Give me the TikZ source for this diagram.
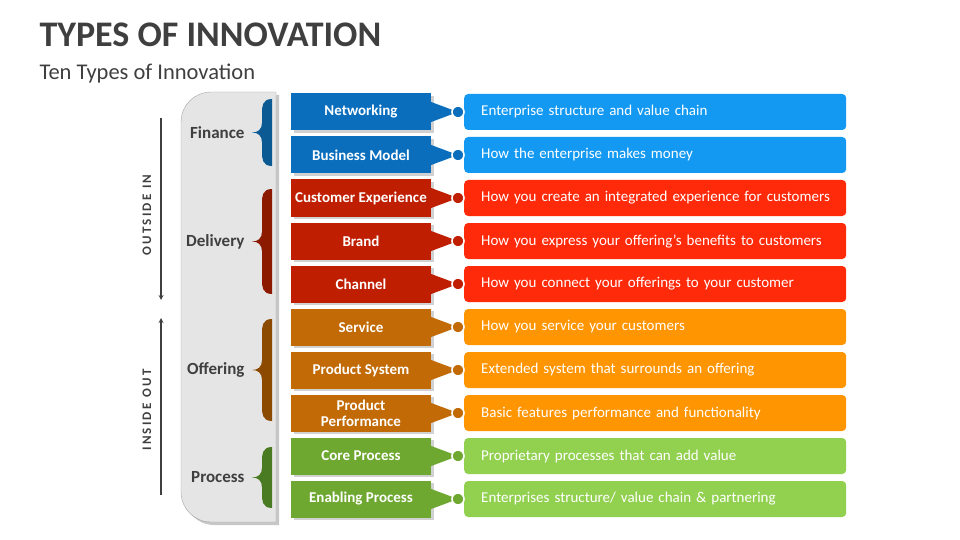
\documentclass[tikz,border=0pt]{standalone}
\usepackage{fontspec}
\setmainfont{Carlito}
\definecolor{bdk}{HTML}{0A6EBD}\definecolor{blt}{HTML}{1499F2}\definecolor{bbr}{HTML}{0B5A94}
\definecolor{rdk}{HTML}{BF1E00}\definecolor{rlt}{HTML}{FF2A0A}\definecolor{rbr}{HTML}{8B1A00}
\definecolor{odk}{HTML}{C26A06}\definecolor{olt}{HTML}{FF9500}\definecolor{obr}{HTML}{8B4A00}
\definecolor{gdk}{HTML}{6EA830}\definecolor{glt}{HTML}{92D050}\definecolor{gbr}{HTML}{4A7A22}
\definecolor{txt}{HTML}{3F3F3F}
\tikzset{
 lbox/.style={minimum width=140pt,minimum height=37pt,inner sep=1pt,text=white,font=\bfseries\fontsize{15}{16}\selectfont,align=center},
 rbox/.style={minimum width=382pt,minimum height=36pt,rounded corners=4pt,text=white,font=\fontsize{15}{17}\selectfont,anchor=west,text width=362pt,align=left,inner xsep=10pt,xshift=0pt},
 dot/.style={circle,draw=white,line width=1.6pt,minimum size=12pt,inner sep=0pt},
 grp/.style={text=txt,font=\bfseries\fontsize{17}{19}\selectfont},
 side/.style={text=txt,font=\bfseries\fontsize{13}{15}\selectfont,rotate=90}
}
\begin{document}
\begin{tikzpicture}[x=1pt,y=-1pt]
\useasboundingbox (0,0) rectangle (960,540);
\node[anchor=west,text=txt,font=\bfseries\fontsize{36}{38}\selectfont] (title) at (36,35) {TYPES OF INNOVATION};
\node[anchor=west,text=txt,font=\fontsize{22.5}{24}\selectfont] (sub) at (36,74) {Ten Types of Innovation};
% gray panel
\fill[black!22] (279,95) -- (214,95) arc[start angle=270,end angle=180,radius=30] -- (184,495) arc[start angle=180,end angle=90,radius=30] -- (279,525) -- cycle;
\draw[fill=black!10,draw=black!35] (276,92) -- (211,92) arc[start angle=270,end angle=180,radius=30] -- (181,492) arc[start angle=180,end angle=90,radius=30] -- (276,522) -- cycle;
% braces
\foreach \ya/\yb/\c/\t in {99/166/bbr/Finance,189/294/rbr/Delivery,319/421/obr/Offering,447/508/gbr/Process}{
 \pgfmathsetmacro\m{(\ya+\yb)/2}
 \fill[\c] (272,\ya) .. controls (262,\ya) and (262,\ya+8) .. (262,\ya+14) -- (262,\m-10) .. controls (262,\m-3) and (258,\m) .. (252,\m) .. controls (258,\m) and (262,\m+3) .. (262,\m+10) -- (262,\yb-14) .. controls (262,\yb-8) and (262,\yb) .. (272,\yb) -- cycle;
 \node[grp,anchor=east] at (248,\m) {\t};
}
% side arrows
\coordinate (oa) at (161,118); \coordinate (ob) at (161,300);
\coordinate (ia) at (161,318); \coordinate (ib) at (161,495);
\draw[txt,line width=1.2pt,-stealth] (oa) -- (ob);
\draw[txt,line width=1.2pt,-stealth] (ib) -- (ia);
\node[side] (outin) at (147,215) {O\,U\,T\,S\,I\,D\,E\ \ I\,N};
\node[side] (inout) at (147,410) {I\,N\,S\,I\,D\,E\ \ O\,U\,T};
% rows
\foreach \i/\y/\dk/\lt/\a/\b in {
 1/112/bdk/blt/Networking/{Enterprise structure and value chain},
 2/155/bdk/blt/Business Model/{How the enterprise makes money},
 3/198/rdk/rlt/Customer Experience/{How you create an integrated experience for customers},
 4/241/rdk/rlt/Brand/{How you express your offering’s benefits to customers},
 5/284/rdk/rlt/Channel/{How you connect your offerings to your customer},
 6/327/odk/olt/Service/{How you service your customers},
 7/370/odk/olt/Product System/{Extended system that surrounds an offering},
 8/413/odk/olt/{Product\\Performance}/{Basic features performance and functionality},
 9/456/gdk/glt/Core Process/{Proprietary processes that can add value},
 10/499/gdk/glt/Enabling Process/{Enterprises structure/ value chain \& partnering}}{
 \fill[black!18] (294,\y-16) rectangle (434,\y+21);
 \node[lbox,fill=\dk] (l\i) at (361,\y) {\a};
 \node[rbox,fill=\lt] (r\i) at (464,\y) {\hspace*{7pt}\b};
 \coordinate (d\i) at (458,\y);
 \fill[\dk] ([yshift=-10pt]l\i.east) -- (d\i) -- ([yshift=10pt]l\i.east) -- cycle;
 \node[dot,fill=\dk] at (d\i) {};
}
\end{tikzpicture}
\end{document}
